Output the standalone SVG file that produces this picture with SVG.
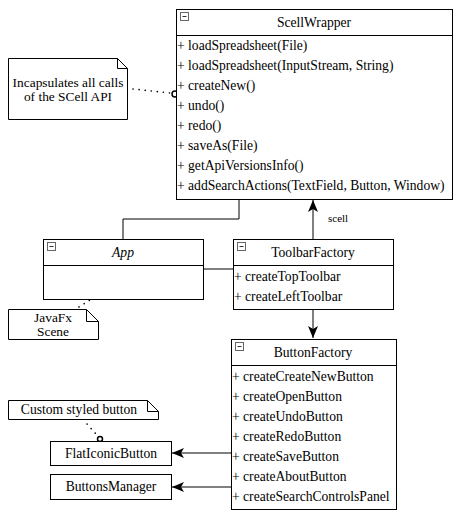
<svg xmlns="http://www.w3.org/2000/svg" width="460" height="519" viewBox="0 0 460 519">
<style>
text{font-family:"Liberation Serif","DejaVu Serif",serif;font-size:13.6px;fill:#000}
.note{font-size:13.4px}
.box{fill:#fff;stroke:#000;stroke-width:1}
.line{fill:none;stroke:#000;stroke-width:1}
.dot{fill:none;stroke:#000;stroke-width:1.6;stroke-dasharray:0.1 6;stroke-linecap:round}
.ctr{text-anchor:middle}
.ic{fill:#fff;stroke:#666;stroke-width:1}
</style>
<defs>
<marker id="arr" viewBox="0 0 12 10" refX="12" refY="5" markerWidth="12" markerHeight="10" markerUnits="userSpaceOnUse" orient="auto">
<path d="M0,0 L12,5 L0,10 L3,5 Z" fill="#000"/>
</marker>
<g id="minus"><rect x="0.5" y="0.5" width="8" height="8" class="ic"/><line x1="2.5" y1="4.5" x2="6.5" y2="4.5" stroke="#333"/></g>
</defs>
<g id="connectors">
<polyline class="line" points="123,239 123,219 239,219 239,199"/>
<line class="line" x1="203" y1="269" x2="233" y2="269"/>
<line class="line" x1="313" y1="239" x2="313" y2="200" marker-end="url(#arr)"/>
<text x="328" y="222" style="font-size:11px">scell</text>
<line class="line" x1="313" y1="309" x2="313" y2="338" marker-end="url(#arr)"/>
<line class="line" x1="231" y1="453" x2="172" y2="453" marker-end="url(#arr)"/>
<line class="line" x1="231" y1="487" x2="172" y2="487" marker-end="url(#arr)"/>
<line class="dot" x1="133" y1="89" x2="170" y2="93"/>
<circle cx="175" cy="94" r="3" fill="#fff" stroke="#000" stroke-width="1.5"/>
<line class="dot" x1="79" y1="307" x2="117" y2="283"/>
<circle cx="123" cy="279" r="3" fill="#fff" stroke="#000" stroke-width="1.5"/>
<line class="dot" x1="87" y1="424" x2="97" y2="435"/>
<circle cx="100" cy="439" r="2.5" fill="#fff" stroke="#000" stroke-width="1.5"/>
</g>
<g id="ScellWrapper">
<rect class="box" x="176.5" y="9.5" width="276" height="190"/>
<line class="line" x1="176.5" y1="35.5" x2="452.5" y2="35.5"/>
<use href="#minus" x="180" y="12"/>
<text class="ctr" x="314" y="27">ScellWrapper</text>
<text x="177" y="50">+ loadSpreadsheet(File)</text>
<text x="177" y="70">+ loadSpreadsheet(InputStream, String)</text>
<text x="177" y="90">+ createNew()</text>
<text x="177" y="110">+ undo()</text>
<text x="177" y="130">+ redo()</text>
<text x="177" y="150">+ saveAs(File)</text>
<text x="177" y="170">+ getApiVersionsInfo()</text>
<text x="177" y="190">+ addSearchActions(TextField, Button, Window)</text>
</g>
<g id="note1">
<path class="box" d="M8.5,58.5 H117.5 L127.5,68.5 V119.5 H8.5 Z"/>
<path class="line" d="M117.5,58.5 V68.5 H127.5"/>
<text class="ctr note" x="68" y="87">Incapsulates all calls</text>
<text class="ctr note" x="68" y="101">of the SCell API</text>
</g>
<g id="App">
<rect class="box" x="43.5" y="239.5" width="160" height="60"/>
<line class="line" x1="43.5" y1="265.5" x2="203.5" y2="265.5"/>
<use href="#minus" x="47" y="242"/>
<text class="ctr" x="123" y="257" font-style="italic">App</text>
</g>
<g id="note2">
<path class="box" d="M8.5,309.5 H86.5 L98.5,321.5 V339.5 H8.5 Z"/>
<path class="line" d="M86.5,309.5 V321.5 H98.5"/>
<text class="ctr note" x="53" y="322">JavaFx</text>
<text class="ctr note" x="53" y="336">Scene</text>
</g>
<g id="ToolbarFactory">
<rect class="box" x="233.5" y="239.5" width="160" height="70"/>
<line class="line" x1="233.5" y1="265.5" x2="393.5" y2="265.5"/>
<use href="#minus" x="237" y="242"/>
<text class="ctr" x="313" y="257">ToolbarFactory</text>
<text x="234" y="281">+ createTopToolbar</text>
<text x="234" y="301">+ createLeftToolbar</text>
</g>
<g id="ButtonFactory">
<rect class="box" x="231.5" y="339.5" width="165" height="170"/>
<line class="line" x1="231.5" y1="365.5" x2="396.5" y2="365.5"/>
<use href="#minus" x="235" y="342"/>
<text class="ctr" x="313" y="357">ButtonFactory</text>
<text x="232" y="381">+ createCreateNewButton</text>
<text x="232" y="401">+ createOpenButton</text>
<text x="232" y="421">+ createUndoButton</text>
<text x="232" y="441">+ createRedoButton</text>
<text x="232" y="461">+ createSaveButton</text>
<text x="232" y="481">+ createAboutButton</text>
<text x="232" y="501">+ createSearchControlsPanel</text>
</g>
<g id="note3">
<path class="box" d="M8.5,400.5 H147.5 L158.5,411.5 V419.5 H8.5 Z"/>
<path class="line" d="M147.5,400.5 V411.5 H158.5"/>
<text class="ctr" x="79" y="414">Custom styled button</text>
</g>
<g id="FlatIconicButton">
<rect class="box" x="50.5" y="441.5" width="121" height="24"/>
<text class="ctr" x="111" y="458">FlatIconicButton</text>
</g>
<g id="ButtonsManager">
<rect class="box" x="50.5" y="474.5" width="121" height="25"/>
<text class="ctr" x="111" y="491">ButtonsManager</text>
</g>
</svg>
